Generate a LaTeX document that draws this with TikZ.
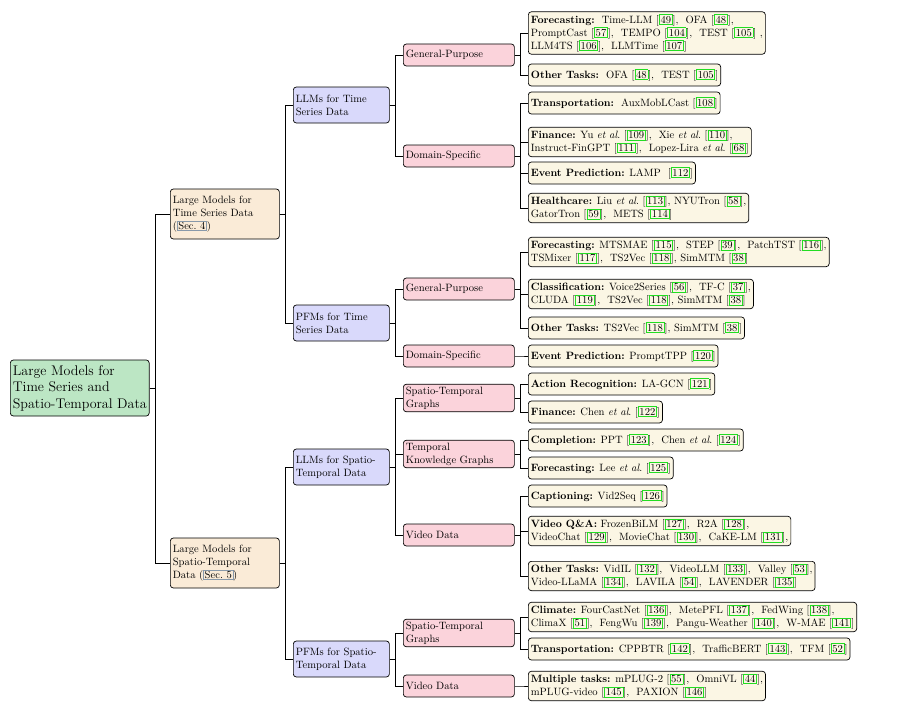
\documentclass[tikz,border=0pt]{standalone}
\usepackage{xcolor}
\definecolor{rootc}{HTML}{BCE6C4}
\definecolor{lonec}{HTML}{FAEBD7}
\definecolor{ltwoc}{HTML}{D9D9FB}
\definecolor{lthreec}{HTML}{FBD3DB}
\definecolor{leafc}{HTML}{FBF6E4}
\definecolor{citc}{HTML}{22DD22}
\definecolor{secc}{HTML}{8899AA}
\newcommand{\cit}[1]{{\setlength\fboxsep{0.8pt}\setlength\fboxrule{0.8pt}\color{citc}\fbox{\color{black}#1}}}
\newcommand{\secref}[1]{{\setlength\fboxsep{0.8pt}\setlength\fboxrule{0.6pt}\color{secc}\fbox{\color{black}#1}}}
\newcommand{\etal}{\textit{et al}.}
\begin{document}
\begin{tikzpicture}[x=1pt,y=-1pt,
  base/.style={draw,rounded corners=3pt,line width=0.7pt,align=left,inner sep=2.5pt,font=\fontsize{10.6}{13}\selectfont},
  rootbox/.style={base,fill=rootc,font=\fontsize{14}{16.5}\selectfont,minimum height=56,anchor=west},
  onebox/.style={base,fill=lonec,text width=104,minimum height=50,anchor=west},
  twobox/.style={base,fill=ltwoc,text width=91,minimum height=36,anchor=west},
  threebox/.style={base,fill=lthreec,text width=106,minimum height=22,anchor=west},
  leafbox/.style={base,fill=leafc,anchor=west,minimum height=22},
  conn/.style={line width=0.6pt}]
\useasboundingbox (0,0) rectangle (897,717);
\node[rootbox] (root) at (10,388) {Large Models for\\Time Series and\\Spatio-Temporal Data};
\node[onebox] (ts) at (170,214) {Large Models for\\Time Series Data\\(\secref{Sec.\ 4})};
\node[onebox] (st) at (170,563) {Large Models for\\Spatio-Temporal\\Data (\secref{Sec.\ 5})};
\node[twobox] (llmts) at (293,105) {LLMs for Time\\Series Data};
\node[twobox] (pfmts) at (293,323) {PFMs for Time\\Series Data};
\node[twobox] (llmst) at (293,467) {LLMs for Spatio-\\Temporal Data};
\node[twobox] (pfmst) at (293,659) {PFMs for Spatio-\\Temporal Data};
\node[threebox] (gp1) at (403,55) {General-Purpose};
\node[threebox] (ds1) at (403,156) {Domain-Specific};
\node[threebox] (gp2) at (403,289) {General-Purpose};
\node[threebox] (ds2) at (403,356) {Domain-Specific};
\node[threebox] (stg1) at (403,398) {Spatio-Temporal\\Graphs};
\node[threebox] (tkg) at (403,454) {Temporal\\Knowledge Graphs};
\node[threebox] (vd1) at (403,535) {Video Data};
\node[threebox] (stg2) at (403,633) {Spatio-Temporal\\Graphs};
\node[threebox] (vd2) at (403,686) {Video Data};
\node[leafbox] (a1) at (528,33) {\textbf{Forecasting:}\ \ Time-LLM [\cit{49}],\ \ OFA [\cit{48}],\\PromptCast [\cit{57}],\ \ TEMPO [\cit{104}],\ \ TEST [\cit{105}]\ ,\\LLM4TS [\cit{106}],\ \ LLMTime [\cit{107}]};
\node[leafbox] (a2) at (528,75) {\textbf{Other Tasks:}\ \ OFA [\cit{48}],\ \ TEST [\cit{105}]};
\node[leafbox] (b1) at (528,103) {\textbf{Transportation:}\ \ AuxMobLCast [\cit{108}]};
\node[leafbox] (b2) at (528,142) {\textbf{Finance:} Yu \etal\ [\cit{109}],\ \ Xie \etal\ [\cit{110}],\\Instruct-FinGPT [\cit{111}],\ \ Lopez-Lira \etal\ [\cit{68}]};
\node[leafbox] (b3) at (528,173) {\textbf{Event Prediction:} LAMP\ \ [\cit{112}]};
\node[leafbox] (b4) at (528,208) {\textbf{Healthcare:} Liu \etal\ [\cit{113}], NYUTron [\cit{58}],\\GatorTron [\cit{59}],\ \ METS [\cit{114}]};
\node[leafbox] (c1) at (528,252) {\textbf{Forecasting:} MTSMAE [\cit{115}],\ \ STEP [\cit{39}],\ \ PatchTST [\cit{116}],\\TSMixer [\cit{117}],\ \ TS2Vec [\cit{118}], SimMTM [\cit{38}]};
\node[leafbox] (c2) at (528,294) {\textbf{Classification:} Voice2Series [\cit{56}],\ \ TF-C [\cit{37}],\\CLUDA [\cit{119}],\ \ TS2Vec [\cit{118}], SimMTM [\cit{38}]};
\node[leafbox] (c3) at (528,328) {\textbf{Other Tasks:} TS2Vec [\cit{118}], SimMTM [\cit{38}]};
\node[leafbox] (d1) at (528,356) {\textbf{Event Prediction:} PromptTPP [\cit{120}]};
\node[leafbox] (e1) at (528,384) {\textbf{Action Recognition:} LA-GCN [\cit{121}]};
\node[leafbox] (e2) at (528,412) {\textbf{Finance:} Chen \etal\ [\cit{122}]};
\node[leafbox] (f1) at (528,440) {\textbf{Completion:} PPT [\cit{123}],\ \ Chen \etal\ [\cit{124}]};
\node[leafbox] (f2) at (528,468) {\textbf{Forecasting:} Lee \etal\ [\cit{125}]};
\node[leafbox] (g1) at (528,496) {\textbf{Captioning:} Vid2Seq [\cit{126}]};
\node[leafbox] (g2) at (528,531) {\textbf{Video Q\&A:} FrozenBiLM [\cit{127}],\ \ R2A [\cit{128}],\\VideoChat [\cit{129}],\ \ MovieChat [\cit{130}],\ \ CaKE-LM [\cit{131}],};
\node[leafbox] (g3) at (528,576) {\textbf{Other Tasks:} VidIL [\cit{132}],\ \ VideoLLM [\cit{133}],\ \ Valley [\cit{53}],\\Video-LLaMA [\cit{134}],\ \ LAVILA [\cit{54}],\ \ LAVENDER [\cit{135}]};
\node[leafbox] (h1) at (528,617) {\textbf{Climate:} FourCastNet [\cit{136}],\ \ MetePFL [\cit{137}],\ \ FedWing [\cit{138}],\\ClimaX [\cit{51}],\ \ FengWu [\cit{139}],\ \ Pangu-Weather [\cit{140}],\ \ W-MAE [\cit{141}]};
\node[leafbox] (h2) at (528,649) {\textbf{Transportation:} CPPBTR [\cit{142}],\ \ TrafficBERT [\cit{143}],\ \ TFM [\cit{52}]};
\node[leafbox] (i1) at (528,686) {\textbf{Multiple tasks:} mPLUG-2 [\cit{55}],\ \ OmniVL [\cit{44}],\\mPLUG-video [\cit{145}],\ \ PAXION [\cit{146}]};
\foreach \p/\c in {root/ts,root/st,ts/llmts,ts/pfmts,st/llmst,st/pfmst,
  llmts/gp1,llmts/ds1,pfmts/gp2,pfmts/ds2,llmst/stg1,llmst/tkg,llmst/vd1,pfmst/stg2,pfmst/vd2,
  gp1/a1,gp1/a2,ds1/b1,ds1/b2,ds1/b3,ds1/b4,gp2/c1,gp2/c2,gp2/c3,ds2/d1,stg1/e1,stg1/e2,tkg/f1,tkg/f2,
  vd1/g1,vd1/g2,vd1/g3,stg2/h1,stg2/h2,vd2/i1}
  \draw[conn] (\p.east) -- ++(6,0) |- (\c.west);
\end{tikzpicture}
\end{document}
